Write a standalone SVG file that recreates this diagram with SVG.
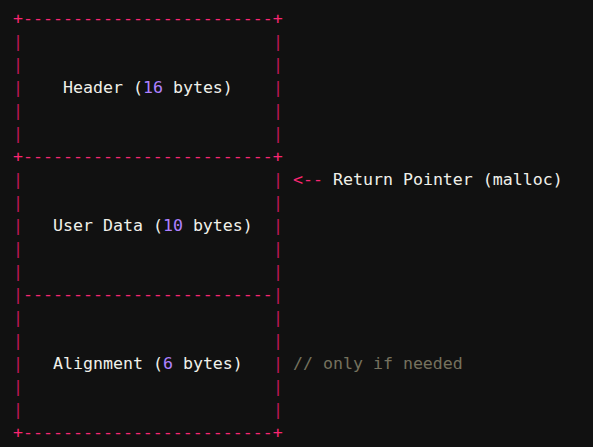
<svg xmlns="http://www.w3.org/2000/svg" width="593" height="447" viewBox="0 0 593 447">
<style>
text{font-family:"DejaVu Sans Mono","Liberation Mono",monospace;font-size:16.6px;white-space:pre}
.e{fill:#f92672}
.p{fill:#c2185b}
.t{fill:#f0f0ea}
.n{fill:#ae81ff}
.c{fill:#75715e}
</style>
<rect width="593" height="447" fill="#111111"/>
<g id="connectors">
<text class="e" x="13" y="24">+-------------------------+</text>
<text class="e" x="13" y="162">+-------------------------+</text>
<text class="e" x="23" y="300">-------------------------</text>
<text class="e" x="13" y="438">+-------------------------+</text>
<g class="p">
<text x="13" y="47">|</text><text x="273" y="47">|</text>
<text x="13" y="70">|</text><text x="273" y="70">|</text>
<text x="13" y="93">|</text><text x="273" y="93">|</text>
<text x="13" y="116">|</text><text x="273" y="116">|</text>
<text x="13" y="139">|</text><text x="273" y="139">|</text>
<text x="13" y="185">|</text><text x="273" y="185">|</text>
<text x="13" y="208">|</text><text x="273" y="208">|</text>
<text x="13" y="231">|</text><text x="273" y="231">|</text>
<text x="13" y="254">|</text><text x="273" y="254">|</text>
<text x="13" y="277">|</text><text x="273" y="277">|</text>
<text x="13" y="300">|</text><text x="273" y="300">|</text>
<text x="13" y="323">|</text><text x="273" y="323">|</text>
<text x="13" y="346">|</text><text x="273" y="346">|</text>
<text x="13" y="369">|</text><text x="273" y="369">|</text>
<text x="13" y="392">|</text><text x="273" y="392">|</text>
<text x="13" y="415">|</text><text x="273" y="415">|</text>
</g>
</g>
<g id="header">
<text class="t" x="63" y="93">Header (<tspan class="n">16</tspan> bytes)</text>
</g>
<g id="userdata">
<text class="t" x="53" y="231">User Data (<tspan class="n">10</tspan> bytes)</text>
</g>
<g id="alignment">
<text class="t" x="53" y="369">Alignment (<tspan class="n">6</tspan> bytes)</text>
</g>
<g id="return-pointer">
<text class="t" x="293" y="185"><tspan class="e">&lt;--</tspan> Return Pointer (malloc)</text>
</g>
<g id="comment">
<text class="c" x="293" y="369">// only if needed</text>
</g>
</svg>
